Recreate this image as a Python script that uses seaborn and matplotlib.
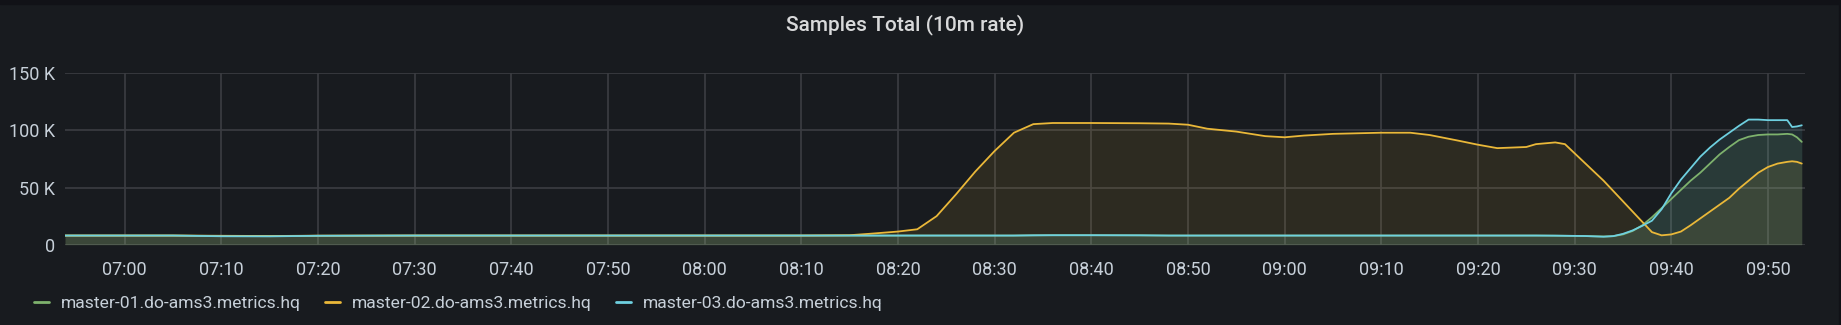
import pandas as pd
import matplotlib.pyplot as plt
import matplotlib.dates as mdates
from matplotlib.patches import Rectangle
import seaborn as sns

# Data (values in thousands)
times = ["06:53:50", "07:00", "07:05", "07:10", "07:15", "07:20", "07:30", "07:40", "07:50", "08:00",
         "08:10", "08:15", "08:17", "08:20", "08:22", "08:24", "08:26", "08:28", "08:30", "08:32",
         "08:34", "08:36", "08:40", "08:45", "08:48", "08:50", "08:52", "08:55", "08:58", "09:00",
         "09:02", "09:05", "09:10", "09:13", "09:15", "09:18", "09:20", "09:22", "09:25", "09:26",
         "09:28", "09:29", "09:31", "09:33", "09:34", "09:35", "09:36", "09:37", "09:38", "09:39",
         "09:40", "09:41", "09:42", "09:43", "09:44", "09:45", "09:46", "09:47", "09:48", "09:49",
         "09:50", "09:51", "09:52", "09:52:30", "09:53", "09:53:30"]

master_01 = [8.0, 8.0, 8.0, 7.6, 7.5, 7.8, 8.0, 8.0, 8.0, 8.0,
             8.0, 8.0, 8.0, 8.0, 8.0, 8.0, 8.0, 8.0, 8.0, 8.0,
             8.2, 8.3, 8.3, 8.2, 8.0, 8.0, 8.0, 8.0, 8.0, 8.0,
             8.0, 8.0, 8.0, 8.0, 8.0, 8.0, 8.0, 8.0, 8.0, 8.0,
             7.9, 7.8, 7.6, 7.2, 7.5, 9.0, 12, 17, 24, 32,
             40, 48, 56, 63, 71, 79, 85.5, 91.5, 94.5, 96,
             96.5, 96.5, 97, 96.5, 94, 90]

master_02 = [8.0, 8.0, 8.0, 7.8, 7.6, 7.9, 8.0, 8.0, 8.0, 8.0,
             8.0, 8.3, 9.5, 11.5, 13.5, 25, 44, 64, 82, 98,
             105.5, 106.5, 106.5, 106.3, 106, 105, 101.5, 99, 95, 94,
             95.5, 97, 98, 98, 96, 91, 87.5, 84.5, 85.5, 88,
             89.5, 88, 72, 56, 47, 38, 29, 20, 11, 8.2,
             9, 11.5, 17, 23, 29, 35, 41, 49, 56, 63,
             68, 71, 72.5, 73, 72.5, 71]

master_03 = [8.0, 8.0, 8.0, 7.4, 7.3, 7.8, 8.0, 8.0, 8.0, 8.0,
             8.0, 8.0, 8.0, 8.0, 8.0, 8.0, 8.0, 8.0, 8.0, 8.0,
             8.2, 8.3, 8.3, 8.2, 8.0, 8.0, 8.0, 8.0, 8.0, 8.0,
             8.0, 8.0, 8.0, 8.0, 8.0, 8.0, 8.0, 8.0, 8.0, 8.0,
             7.9, 7.8, 7.6, 7.0, 7.5, 9.5, 12.5, 16.5, 21, 31,
             45, 57, 67, 77, 85, 92, 98, 104, 109.5, 109.5,
             109, 109, 109, 103, 103.5, 104.5]

series_names = ["master-01.do-ams3.metrics.hq", "master-02.do-ams3.metrics.hq", "master-03.do-ams3.metrics.hq"]
series_colors = ["#7eb26d", "#eab839", "#6ed0e0"]
y_ticks = [0, 50000, 100000, 150000]
y_tick_labels = ["0", "50 K", "100 K", "150 K"]

# Build a long dataframe for seaborn
stamps = pd.to_datetime(["2021-01-01 " + t for t in times], format="mixed")
frames = []
for name, vals in zip(series_names, [master_01, master_02, master_03]):
    frames.append(pd.DataFrame({"time": stamps, "value": [v * 1000 for v in vals], "series": name}))
df = pd.concat(frames, ignore_index=True)

bg = "#181b1f"
text_color = "#c7d0d9"
grid_color = "#3b3d42"

sns.set_style("dark")
plt.rcParams["font.family"] = ["Roboto", "DejaVu Sans"]

fig = plt.figure(figsize=(18.41, 3.25), dpi=100, facecolor=bg)
ax = fig.add_axes([65 / 1841, 1 - 244.7 / 325, (1805 - 65) / 1841, (244.7 - 73.3) / 325])
ax.set_facecolor(bg)

# darker page strip on top / right like the dashboard
fig.patches.append(Rectangle((0, 1 - 4 / 325), 1, 4 / 325, transform=fig.transFigure,
                             color="#111217", zorder=0))
fig.patches.append(Rectangle((1839 / 1841, 0), 2 / 1841, 1, transform=fig.transFigure,
                             color="#111217", zorder=0))

palette = dict(zip(series_names, series_colors))
sns.lineplot(data=df, x="time", y="value", hue="series", palette=palette, linewidth=1.3, ax=ax)
for name in series_names:
    sub = df[df["series"] == name]
    ax.fill_between(sub["time"], 0, sub["value"], color=palette[name], alpha=0.1, linewidth=0)

ax.set_xlim(pd.Timestamp("2021-01-01 06:53:50"), pd.Timestamp("2021-01-01 09:53:50"))
ax.set_ylim(0, 150000)
ax.set_yticks(y_ticks)
ax.set_yticklabels(y_tick_labels)
ax.xaxis.set_major_locator(mdates.MinuteLocator(byminute=range(0, 60, 10)))
ax.xaxis.set_major_formatter(mdates.DateFormatter("%H:%M"))

ax.grid(True, color=grid_color, linewidth=1.2)
for s in ax.spines.values():
    s.set_visible(False)
ax.tick_params(axis="both", length=0, colors=text_color, labelsize=13)
ax.tick_params(axis="x", pad=12)
ax.tick_params(axis="y", pad=7)
ax.set_xlabel("")
ax.set_ylabel("")

fig.text(905.5 / 1841, 1 - 25 / 325, "Samples Total (10m rate)", ha="center", va="center",
         color="#d8d9da", fontsize=15, fontweight="medium")

leg = ax.legend(loc="center left", bbox_to_anchor=(34 / 1841, 1 - 303 / 325),
                bbox_transform=fig.transFigure, ncol=3, frameon=False,
                fontsize=12.6, handlelength=0.86, handletextpad=0.69, columnspacing=1.37,
                borderaxespad=0, borderpad=0)
for t in leg.get_texts():
    t.set_color(text_color)
for h in leg.get_lines():
    h.set_linewidth(2)

fig.savefig("out.png", dpi=100, facecolor=bg)
